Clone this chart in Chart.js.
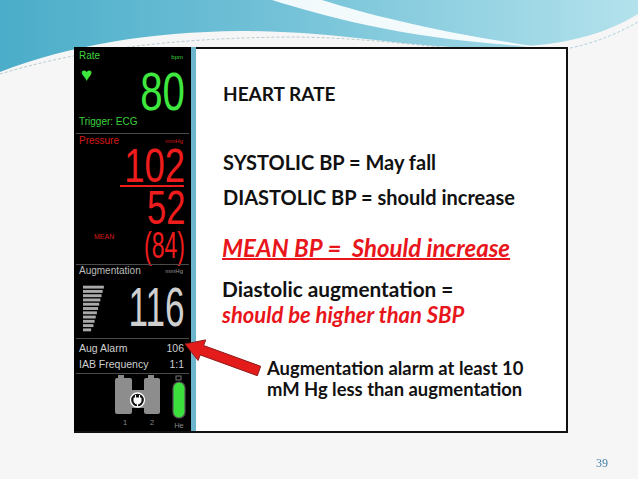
<!DOCTYPE html>
<html>
<head>
<meta charset="utf-8">
<script src="https://cdn.jsdelivr.net/npm/chart.js@4.4.1/dist/chart.umd.min.js"></script>
<style>
  html, body { margin: 0; padding: 0; }
  body { width: 638px; height: 479px; overflow: hidden; position: relative; background: #f6f6f6; }
  .abs { position: absolute; white-space: nowrap; line-height: 1; }
  .mon { font-family: "Liberation Sans", Arial, sans-serif; }
  .big { font-family: "Liberation Sans", Arial, sans-serif; transform-origin: right top; line-height: 0.75; }
  .slide { font-family: Lato, "Open Sans", sans-serif; font-weight: bold; color: #111; font-size: 20px; }
  .red { color: #e8151b; font-style: italic; }
  .sep { position: absolute; left: 76px; width: 113px; height: 1px; background: #4a4a4a; }
</style>
</head>
<body>
<svg class="abs" style="left:0;top:0" width="638" height="90">
  <defs>
    <linearGradient id="sky" x1="0" x2="1" y1="0" y2="0">
      <stop offset="0" stop-color="#4badc9"/>
      <stop offset="0.45" stop-color="#74c2d8"/>
      <stop offset="1" stop-color="#b3e2ec"/>
    </linearGradient>
  </defs>
  <path d="M0,0 H638 V14 C605,34 565,47 485,48 C405,48 340,31 240,31 C150,32 70,45 0,72 Z" fill="url(#sky)"/>
  <path d="M272,0 C330,18 410,40 540,47 C440,33 370,15 322,0 Z" fill="#ffffff" opacity="0.9"/>
  <path d="M0,74 C80,50 170,38 290,37 C340,37 390,42 440,47" stroke="#9fb8c0" stroke-width="0.7" fill="none" stroke-dasharray="3 2"/>
  <path d="M560,50 C590,45 615,35 638,22" stroke="#8fc4d4" stroke-width="0.7" fill="none" stroke-dasharray="3 2"/>
</svg>

<!-- slide frame -->
<div class="abs" style="left:74px;top:47px;width:492px;height:382px;background:#fff;border:2px solid #111;border-left:0;"></div>
<div class="abs" style="left:74px;top:47px;width:117px;height:384px;background:#000;"></div>
<div class="abs" style="left:191px;top:47px;width:5px;height:384px;background:#6db5cc;"></div>

<!-- rate -->
<div class="abs mon" style="left:79px;top:51px;font-size:10px;color:#3ed23e;">Rate</div>
<div class="abs mon" style="right:455px;top:54px;font-size:6px;color:#3ed23e;">bpm</div>
<div class="abs mon" style="left:81px;top:65px;font-size:19px;color:#3ee83e;">&#9829;</div>
<div class="abs big" id="rate" style="right:453px;top:72px;font-size:53px;color:#3ee83e;transform:scaleX(0.76);"></div>
<div class="abs mon" style="left:79px;top:117px;font-size:10px;color:#3ed23e;">Trigger: ECG</div>
<div class="sep" style="top:133px;"></div>

<!-- pressure -->
<div class="abs mon" style="left:79px;top:136px;font-size:10px;color:#d81818;">Pressure</div>
<div class="abs mon" style="right:455px;top:138px;font-size:6px;color:#d81818;">mmHg</div>
<div class="abs big" id="sys" style="right:453px;top:148px;font-size:48px;color:#ee1c1c;transform:scaleX(0.76);"></div>
<div class="abs" style="left:120px;top:185px;width:64px;height:2px;background:#ee1c1c;"></div>
<div class="abs big" id="dia" style="right:453px;top:190px;font-size:48px;color:#ee1c1c;transform:scaleX(0.72);"></div>
<div class="abs mon" style="left:94px;top:233px;font-size:7px;color:#d81818;">MEAN</div>
<div class="abs big" id="mean" style="right:453px;top:231.5px;font-size:36px;color:#ee1c1c;transform:scaleX(0.64);"></div>
<div class="sep" style="top:264px;"></div>

<!-- augmentation -->
<div class="abs mon" style="left:79px;top:266px;font-size:10px;color:#bdbdbd;">Augmentation</div>
<div class="abs mon" style="right:455px;top:268px;font-size:6px;color:#9a9a9a;">mmHg</div>
<canvas id="augChart" class="abs" style="left:83px;top:285px;" width="22" height="47"></canvas>
<div class="abs big" id="aug" style="right:453px;top:287px;font-size:55px;color:#cfcfcf;transform:scaleX(0.64);"></div>
<div class="sep" style="top:338px;"></div>
<div class="abs mon" style="left:79px;top:343px;font-size:10.5px;color:#cfcfcf;">Aug Alarm</div>
<div class="abs mon" id="alarm" style="right:454px;top:343px;font-size:10.5px;color:#cfcfcf;"></div>
<div class="abs mon" style="left:79px;top:359px;font-size:10.5px;color:#cfcfcf;">IAB Frequency</div>
<div class="abs mon" id="freq" style="right:454px;top:359px;font-size:10.5px;color:#cfcfcf;"></div>
<div class="sep" style="top:373px;"></div>

<!-- gas cylinders -->
<svg class="abs" style="left:110px;top:374px" width="82" height="56">
  <rect x="8" y="1" width="6" height="4" fill="#8a8a8a"/>
  <rect x="38" y="1" width="6" height="4" fill="#8a8a8a"/>
  <rect x="5" y="4" width="17" height="36" rx="2" fill="#8d8d8d"/>
  <rect x="34" y="4" width="16" height="36" rx="2" fill="#8d8d8d"/>
  <rect x="21" y="16" width="14" height="18" fill="#8d8d8d"/>
  <circle cx="27.5" cy="26" r="7" fill="#111" stroke="#fff" stroke-width="1.3"/>
  <path d="M25.5,21 V24 M29.5,21 V24 M24,24 H31 V27 C31,29 29,30 27.5,30 C26,30 24,29 24,27 Z M27.5,30 V33" stroke="#fff" stroke-width="1" fill="#fff"/>
  <text x="15" y="51" font-family="Liberation Sans" font-size="7.5" fill="#8a8a8a" text-anchor="middle">1</text>
  <text x="42" y="51" font-family="Liberation Sans" font-size="7.5" fill="#8a8a8a" text-anchor="middle">2</text>
  <rect x="66" y="2" width="5" height="4" fill="none" stroke="#777" stroke-width="1"/>
  <rect x="63" y="8" width="12" height="36" rx="6" fill="#3ce03c" stroke="#555" stroke-width="1.2"/>
  <text x="69" y="54" font-family="Liberation Sans" font-size="7.5" fill="#8a8a8a" text-anchor="middle">He</text>
</svg>

<!-- slide text -->
<div class="abs slide" style="left:223px;top:84px;font-size:19px;">HEART RATE</div>
<div class="abs slide" style="left:223px;top:152px;">SYSTOLIC BP = May fall</div>
<div class="abs slide" style="left:223px;top:187px;">DIASTOLIC BP = should increase</div>
<div class="abs slide red" style="left:222px;top:236px;font-size:24px;text-decoration:underline;text-decoration-thickness:2px;">MEAN BP =&nbsp; Should increase</div>
<div class="abs slide" style="left:222px;top:279px;font-size:20.8px;">Diastolic augmentation =</div>
<div class="abs slide red" style="left:222px;top:304px;font-size:22px;">should be higher than SBP</div>
<div class="abs slide" style="left:267px;top:359px;font-size:18.4px;">Augmentation alarm at least 10</div>
<div class="abs slide" style="left:267px;top:380px;font-size:18.4px;">mM Hg less than augmentation</div>

<svg class="abs" style="left:0;top:0" width="638" height="479">
  <polygon points="185,344 205.7,339.9 203.6,345.5 260.7,366.3 257.3,375.7 200.2,354.9 198.1,360.5" fill="#e41b1b" stroke="#8e1a1a" stroke-width="1"/>
</svg>

<div class="abs" style="left:596px;top:457px;font-family:'Liberation Serif',serif;font-size:12px;color:#3f7fa6;">39</div>

<script>
// monitor readings
const rateReading = [80];
const pressureReadings = [102, 52, 84];   // systolic, diastolic, mean
const augReading = [116];
const alarmSettings = ["106", "1:1"];     // aug alarm, IAB frequency

// augmentation bar gauge (top to bottom)
const augSegments = ["1", "2", "3", "4", "5", "6", "7", "8", "9", "10", "11"];
const augBarLengths = [18, 17, 16, 15, 14, 13, 12, 11, 10, 9, 7];

document.getElementById("rate").textContent = rateReading[0];
document.getElementById("sys").textContent = pressureReadings[0];
document.getElementById("dia").textContent = pressureReadings[1];
document.getElementById("mean").textContent = "(" + pressureReadings[2] + ")";
document.getElementById("aug").textContent = augReading[0];
document.getElementById("alarm").textContent = alarmSettings[0];
document.getElementById("freq").textContent = alarmSettings[1];

const ctx = document.getElementById("augChart").getContext("2d");
new Chart(ctx, {
  type: "bar",
  data: {
    labels: augSegments,
    datasets: [{
      data: augBarLengths,
      backgroundColor: "#a9a9a9",
      borderWidth: 0,
      barPercentage: 0.68,
      categoryPercentage: 1
    }]
  },
  options: {
    indexAxis: "y",
    responsive: false,
    animation: false,
    layout: { padding: 0 },
    scales: {
      x: { display: false, min: 0, max: 19 },
      y: { display: false }
    },
    plugins: { legend: { display: false }, tooltip: { enabled: false } }
  }
});
</script>
</body>
</html>
